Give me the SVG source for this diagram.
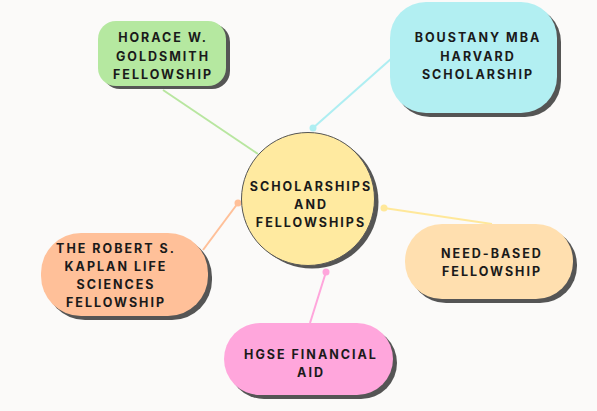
<svg xmlns="http://www.w3.org/2000/svg" width="597" height="411" viewBox="0 0 597 411">
<style>
.t{font-family:Inter,"Liberation Sans",sans-serif;font-weight:700;font-size:12.5px;letter-spacing:2px;fill:#1a1a1a;text-anchor:middle}
.sh{fill:#555555}
.c{stroke-width:2;fill:none}
</style>
<rect width="597" height="411" fill="#fbfaf9"/>
<g id="connectors">
<line class="c" x1="163" y1="90" x2="258" y2="154" stroke="#b8e6a0"/>
<line class="c" x1="313" y1="128" x2="392" y2="58" stroke="#aeeef2"/>
<circle cx="313" cy="128" r="3.5" fill="#aeeef2"/>
<line class="c" x1="238" y1="203" x2="203" y2="250" stroke="#ffc099"/>
<circle cx="238" cy="203" r="3.5" fill="#ffc099"/>
<line class="c" x1="384" y1="208" x2="492" y2="224" stroke="#ffe89a"/>
<circle cx="384" cy="208" r="3.5" fill="#ffe89a"/>
<line class="c" x1="326" y1="272" x2="310" y2="323" stroke="#ffa6dc"/>
<circle cx="326" cy="272" r="3.5" fill="#ffa6dc"/>
</g>
<g id="center">
<circle class="sh" cx="312" cy="202" r="66.5"/>
<circle cx="308" cy="199" r="66.5" fill="#ffeaa0" stroke="#555555" stroke-width="1"/>
<text class="t" x="311" y="191">SCHOLARSHIPS</text>
<text class="t" x="311" y="209">AND</text>
<text class="t" x="311" y="227">FELLOWSHIPS</text>
</g>
<g id="horace">
<rect class="sh" x="102" y="24" width="128" height="65" rx="18"/>
<rect x="98" y="21" width="128" height="65" rx="18" fill="#b5e8a0"/>
<text class="t" x="163" y="42">HORACE W.</text>
<text class="t" x="163" y="61">GOLDSMITH</text>
<text class="t" x="163" y="79">FELLOWSHIP</text>
</g>
<g id="boustany">
<rect class="sh" x="394" y="6" width="167" height="111" rx="36"/>
<rect x="390" y="2" width="167" height="111" rx="36" fill="#b2eff2"/>
<text class="t" x="478" y="42">BOUSTANY MBA</text>
<text class="t" x="478" y="61">HARVARD</text>
<text class="t" x="478" y="79">SCHOLARSHIP</text>
</g>
<g id="kaplan">
<rect class="sh" x="45" y="237" width="167" height="83" rx="40"/>
<rect x="41" y="233" width="167" height="83" rx="40" fill="#ffc099"/>
<text class="t" x="116" y="253">THE ROBERT S.</text>
<text class="t" x="116" y="271">KAPLAN LIFE</text>
<text class="t" x="116" y="289">SCIENCES</text>
<text class="t" x="116" y="307">FELLOWSHIP</text>
</g>
<g id="needbased">
<rect class="sh" x="409" y="228" width="168" height="75" rx="37"/>
<rect x="405" y="224" width="168" height="75" rx="37" fill="#ffdfaf"/>
<text class="t" x="492" y="258">NEED-BASED</text>
<text class="t" x="492" y="276">FELLOWSHIP</text>
</g>
<g id="hgse">
<rect class="sh" x="228" y="327" width="169" height="72" rx="36"/>
<rect x="224" y="323" width="169" height="72" rx="36" fill="#ffa6dc"/>
<text class="t" x="311" y="359">HGSE FINANCIAL</text>
<text class="t" x="311" y="377">AID</text>
</g>
</svg>
